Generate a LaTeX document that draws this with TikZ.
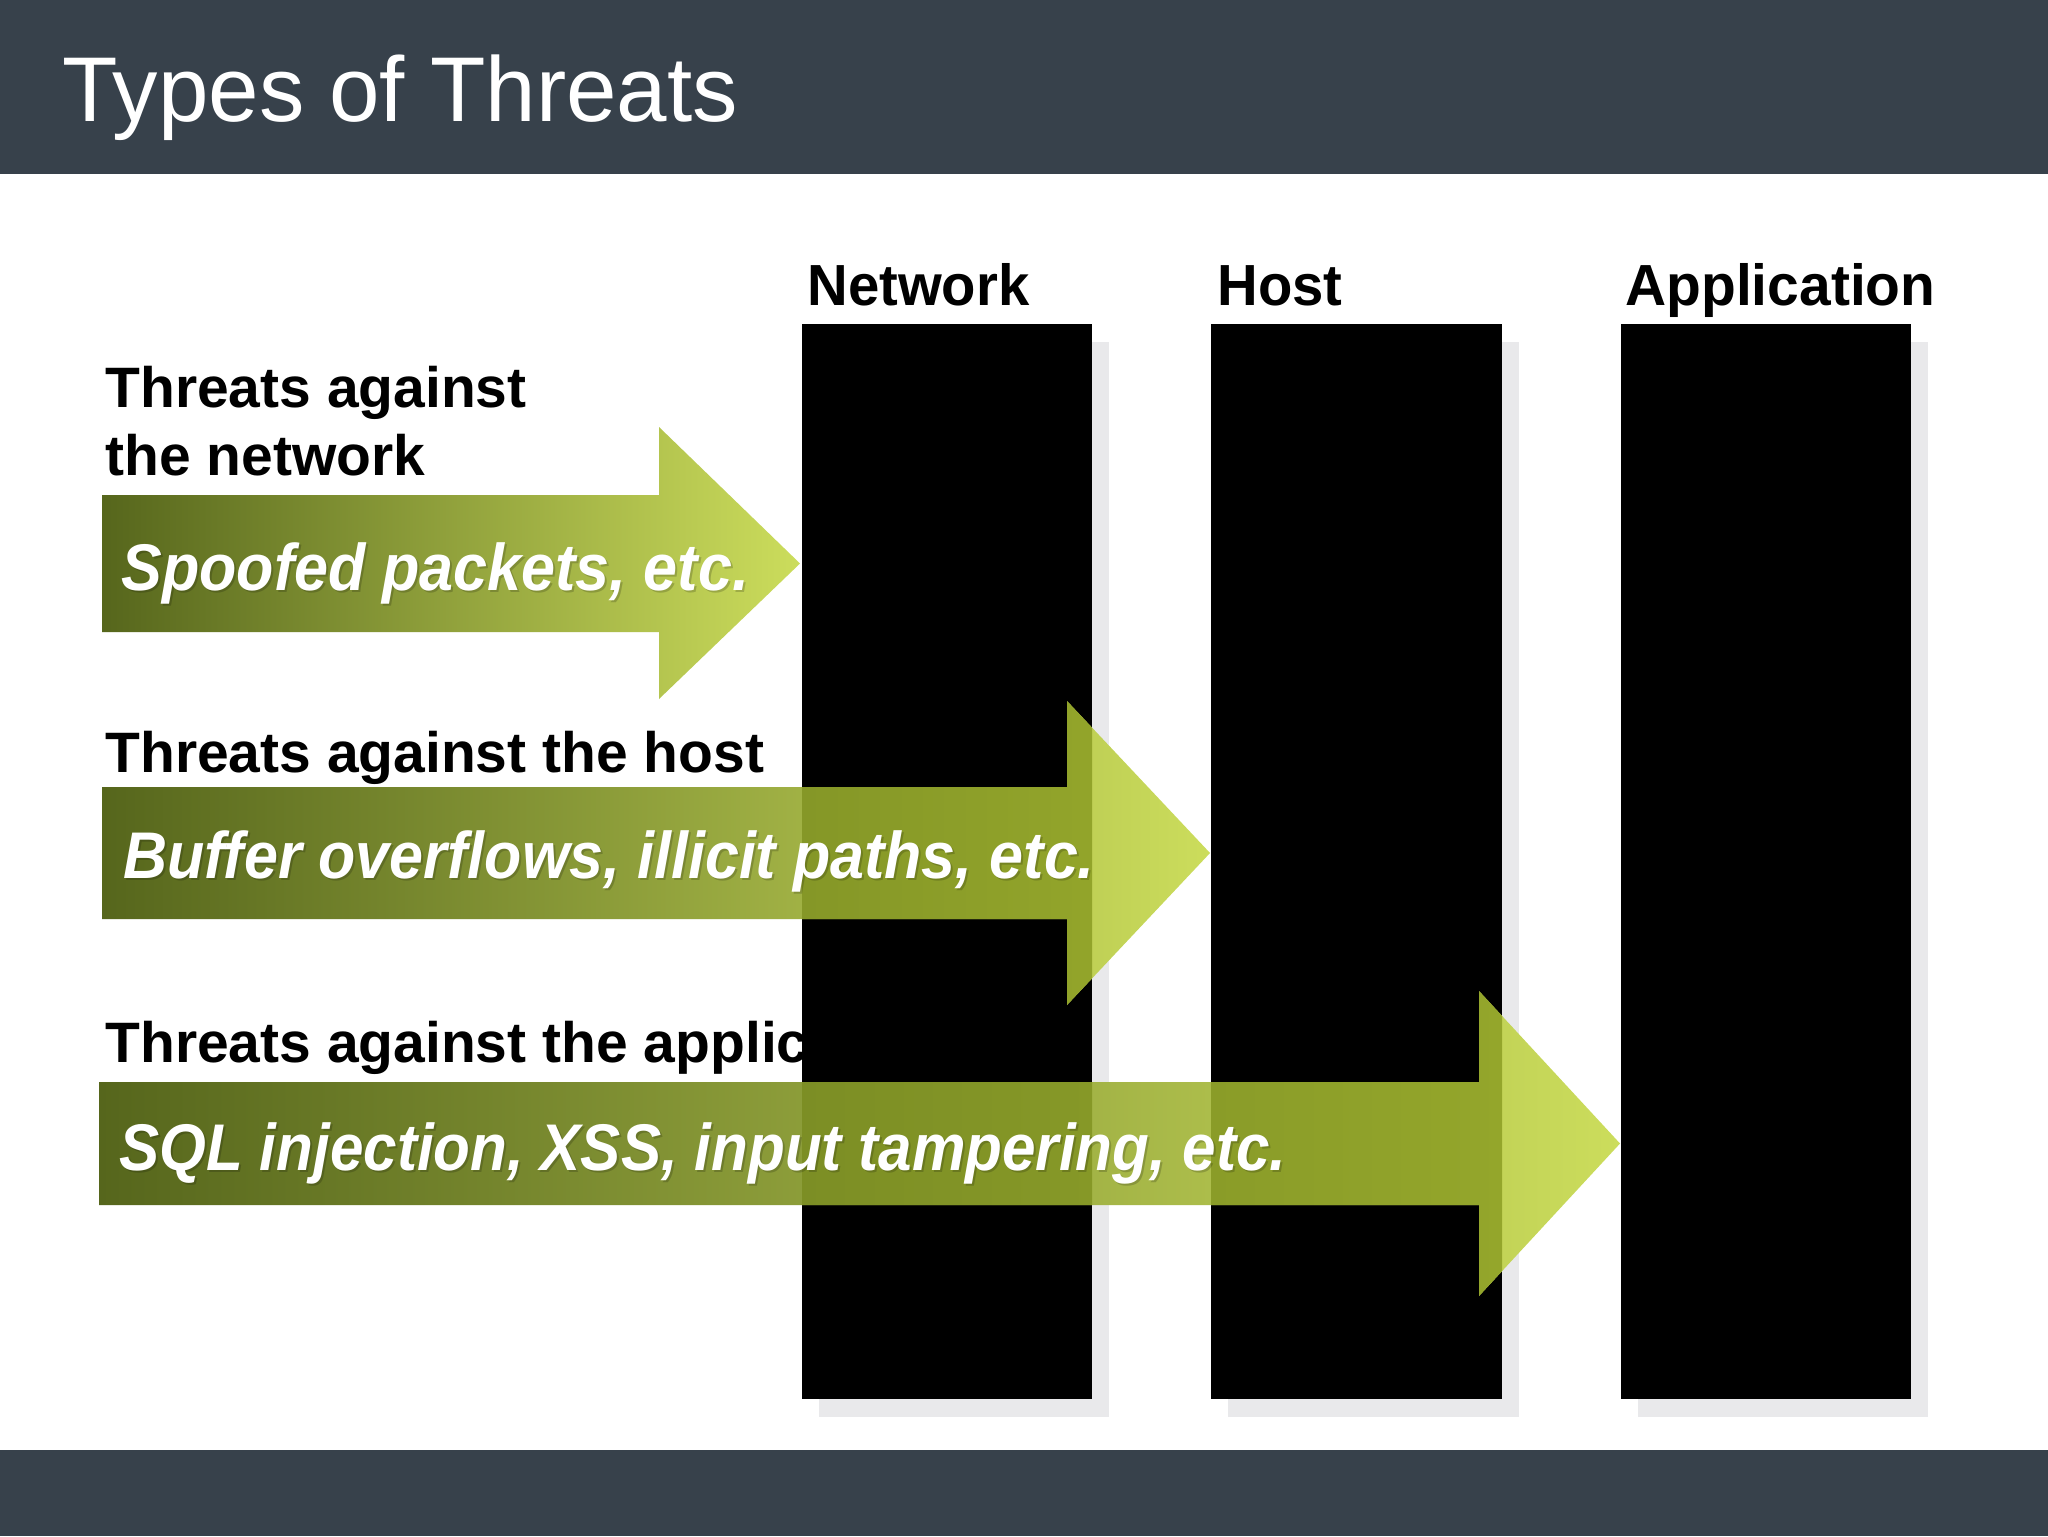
\documentclass[tikz,border=0pt]{standalone}
\usepackage{fontspec}
\setmainfont{Liberation Sans}
\definecolor{hdr}{RGB}{55,65,75}
% gradient over white
\definecolor{gL}{RGB}{86,102,28}
\definecolor{gM}{RGB}{158,178,62}
\definecolor{gR}{RGB}{204,221,92}
% gradient seen over the black bars (semi-transparent arrows)
\definecolor{bL}{RGB}{100,118,30}
\definecolor{bM}{RGB}{128,148,38}
\definecolor{bR}{RGB}{152,170,44}
\definecolor{shd}{RGB}{233,233,235}
\newcommand\squeeze[2]{\scalebox{#1}[1]{#2}}
\newcommand\arrowOnePath{(102,495) -- (659,495) -- (659,427) -- (800,563.5) -- (659,699) -- (659,632) -- (102,632) -- cycle}
\newcommand\arrowTwoPath{(102,787) -- (1067,787) -- (1067,701) -- (1210,853) -- (1067,1005) -- (1067,919) -- (102,919) -- cycle}
\newcommand\arrowThreePath{(99,1082) -- (1479,1082) -- (1479,991) -- (1620,1143.5) -- (1479,1296) -- (1479,1205) -- (99,1205) -- cycle}
\tikzset{
  lbl/.style={anchor=base west, inner sep=0pt, text=black,
    font=\bfseries\fontsize{28.5}{34}\selectfont},
  collbl/.style={anchor=base west, inner sep=0pt, text=black,
    font=\bfseries\fontsize{29}{35}\selectfont},
  itxt/.style={anchor=base west, inner sep=0pt, text=white,
    font=\bfseries\itshape\fontsize{33}{40}\selectfont},
  itxtshadow/.style={itxt, text=black, text opacity=0.18},
  barbox/.style={fill=black},
  barshadow/.style={fill=shd},
  arrowW/.style={left color=gL, middle color=gM, right color=gR},
  arrowB/.style={left color=bL, middle color=bM, right color=bR},
}
\begin{document}
\begin{tikzpicture}[x=0.5pt,y=-0.5pt]
\useasboundingbox (0,0) rectangle (2048,1536);
\fill[white] (0,0) rectangle (2048,1536);
% header and footer
\fill[hdr] (0,0) rectangle (2048,174);
\fill[hdr] (0,1450) rectangle (2048,1536);
\node[anchor=base west, inner sep=0pt, text=white,
  font=\fontsize{46}{55}\selectfont] (title) at (62,121) {\squeeze{0.986}{Types of Threats}};
% left labels
\node[lbl] (lnet1) at (105,407) {Threats against};
\node[lbl] (lnet2) at (105,475) {the network};
\node[lbl] (lhost) at (105,772) {Threats against the host};
\node[lbl] (lapp) at (105,1062) {Threats against the applic};
% bar shadows
\fill[barshadow] (819,342) rectangle (1109,1417);
\fill[barshadow] (1228,342) rectangle (1519,1417);
\fill[barshadow] (1638,342) rectangle (1928,1417);
% bars
\fill[barbox] (802,324) rectangle (1092,1399);
\fill[barbox] (1211,324) rectangle (1502,1399);
\fill[barbox] (1621,324) rectangle (1911,1399);
% column labels
\node[collbl] (cnet) at (807,305) {\squeeze{0.97}{Network}};
\node[collbl] (chost) at (1217,305) {\squeeze{0.97}{Host}};
\node[collbl] (capp) at (1625,305) {\squeeze{0.982}{Application}};
% arrows (over white)
\shade[arrowW] \arrowOnePath;
\shade[arrowW] \arrowTwoPath;
\shade[arrowW] \arrowThreePath;
% arrows where they lie over the black bars
\begin{scope}
  \clip (802,324) rectangle (1092,1399) (1211,324) rectangle (1502,1399) (1621,324) rectangle (1911,1399);
  \shade[arrowB] \arrowTwoPath;
  \shade[arrowB] \arrowThreePath;
\end{scope}
% arrow texts
\node[itxtshadow] (t1s) at (123,592) {\squeeze{0.925}{Spoofed packets, etc.}};
\node[itxt] (t1) at (121,590) {\squeeze{0.925}{Spoofed packets, etc.}};
\node[itxtshadow] (t2s) at (125,880) {\squeeze{0.924}{Buffer overflows, illicit paths, etc.}};
\node[itxt] (t2) at (123,878) {\squeeze{0.924}{Buffer overflows, illicit paths, etc.}};
\node[itxtshadow] (t3s) at (121,1172) {\squeeze{0.912}{SQL injection, XSS, input tampering, etc.}};
\node[itxt] (t3) at (119,1170) {\squeeze{0.912}{SQL injection, XSS, input tampering, etc.}};
\end{tikzpicture}
\end{document}
